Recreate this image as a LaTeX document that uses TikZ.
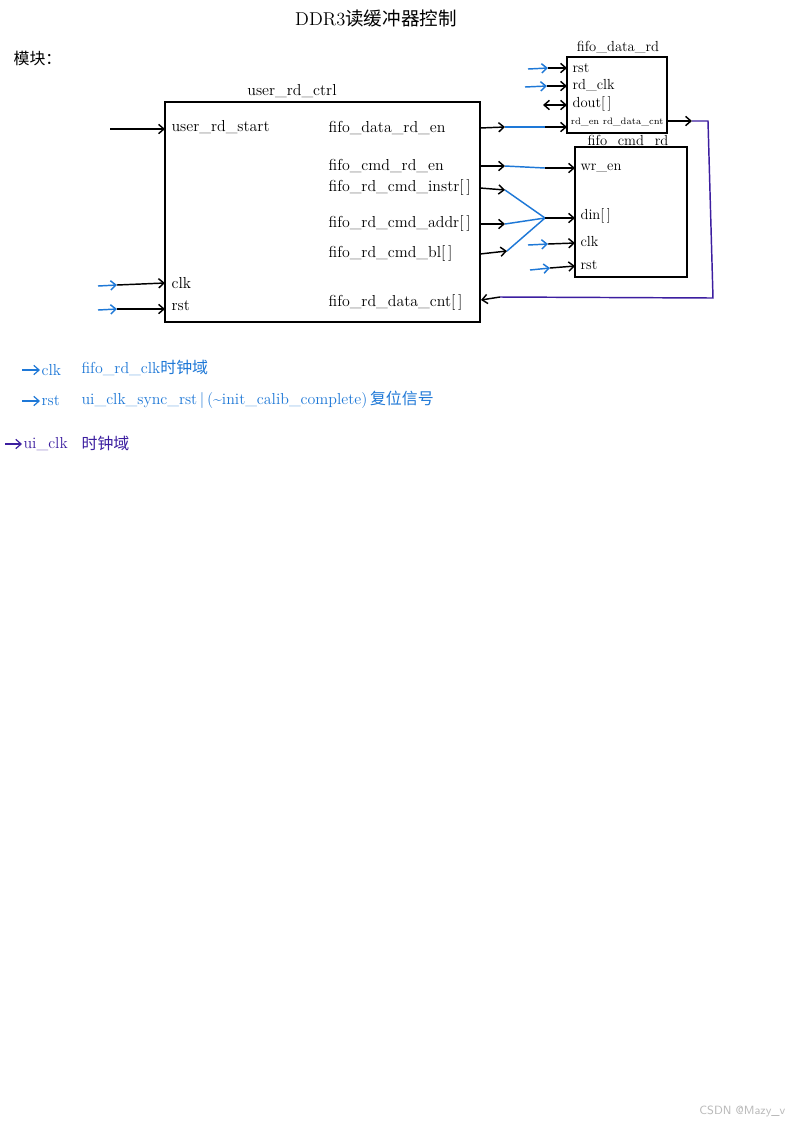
\documentclass[tikz,border=0pt]{standalone}
\usepackage{fontspec}
\newfontfamily\cjk{Noto Sans CJK SC}
\usetikzlibrary{fit,arrows.meta}
\definecolor{penblue}{RGB}{30,120,215}
\definecolor{penpurple}{RGB}{60,30,160}
\tikzset{
  blockbox/.style={draw, line width=1.1pt, inner sep=0pt},
  sig/.style={font=\fontsize{12}{14}\selectfont, inner sep=1pt},
  pinsig/.style={font=\fontsize{11}{13}\selectfont, inner sep=1pt},
  tinysig/.style={font=\fontsize{7}{8}\selectfont, inner sep=0.5pt},
  blu/.style={penblue, line width=1.1pt},
  prp/.style={penpurple, line width=1.1pt},
  blk/.style={black, line width=1.1pt}
}

\begin{document}
\begin{tikzpicture}[x=0.0265cm, y=-0.0265cm, >={Straight Barb[length=4pt,width=7pt]}]
% Parameters
\def\ctrlL{165}; \def\ctrlR{480};
\def\dataL{567}; \def\cmdL{575};
\def\lbl{327};

% Page
\useasboundingbox (0,0) rectangle (796,1125);
\fill[white] (0,0) rectangle (796,1125);

% Title
\node[font=\fontsize{14}{16}\selectfont] (ttl) at (376,18) {DDR3{\cjk 读缓冲器控制}};
\node[sig, anchor=west] (mk) at (12,58) {\cjk 模块：};

% Boxes
\coordinate (ctrlNW) at (\ctrlL,102); \coordinate (ctrlSE) at (\ctrlR,322);
\node[blockbox, fit=(ctrlNW)(ctrlSE)] (ctrl) {};
\node[sig, anchor=south] (ctrlname) at (292,99) {user\_rd\_ctrl};

\coordinate (dataNW) at (\dataL,57); \coordinate (dataSE) at (667,133);
\node[blockbox, fit=(dataNW)(dataSE)] (datafifo) {};
\node[pinsig, anchor=south] (dataname) at (618,55) {fifo\_data\_rd};

\coordinate (cmdNW) at (\cmdL,147); \coordinate (cmdSE) at (687,277);
\node[blockbox, fit=(cmdNW)(cmdSE)] (cmdfifo) {};
\node[pinsig, anchor=south] (cmdname) at (628,149) {fifo\_cmd\_rd};

% Ports of user_rd_ctrl
\node[sig, anchor=west] (pstart) at (\ctrlL+5,127) {user\_rd\_start};
\node[sig, anchor=west] (pclk) at (\ctrlL+5,283) {clk};
\node[sig, anchor=west] (prst) at (\ctrlL+5,306) {rst};
\node[sig, anchor=west] (pdataen) at (\lbl,128) {fifo\_data\_rd\_en};
\node[sig, anchor=west] (pcmden) at (\lbl,166) {fifo\_cmd\_rd\_en};
\node[sig, anchor=west] (pinstr) at (\lbl,188) {fifo\_rd\_cmd\_instr[\,]};
\node[sig, anchor=west] (paddr) at (\lbl,224) {fifo\_rd\_cmd\_addr[\,]};
\node[sig, anchor=west] (pbl) at (\lbl,254) {fifo\_rd\_cmd\_bl[\,]};
\node[sig, anchor=west] (pcnt) at (\lbl,303) {fifo\_rd\_data\_cnt[\,]};

% Ports of fifo_data_rd
\node[pinsig, anchor=west] (drst) at (\dataL+4,68) {rst};
\node[pinsig, anchor=west] (dclk) at (\dataL+4,85) {rd\_clk};
\node[pinsig, anchor=west] (ddout) at (\dataL+4,104) {dout[\,]};
\node[tinysig, anchor=west] (den) at (\dataL+3,122) {rd\_en rd\_data\_cnt};

% Ports of fifo_cmd_rd
\node[pinsig, anchor=west] (cwren) at (\cmdL+4,168) {wr\_en};
\node[pinsig, anchor=west] (cdin) at (\cmdL+4,216) {din[\,]};
\node[pinsig, anchor=west] (cclk) at (\cmdL+4,242) {clk};
\node[pinsig, anchor=west] (crst) at (\cmdL+4,265) {rst};

% Pin points
\coordinate (start0) at (110,129); \coordinate (start1) at (\ctrlL,129);
\coordinate (clk0) at (98,286); \coordinate (clk1) at (117,285); \coordinate (clk2) at (\ctrlL,283);
\coordinate (rst0) at (98,310); \coordinate (rst1) at (117,309); \coordinate (rst2) at (\ctrlL,309);
\coordinate (den0) at (\ctrlR,128); \coordinate (den1) at (505,127); \coordinate (den2) at (545,127); \coordinate (den3) at (\dataL,127);
\coordinate (cen0) at (\ctrlR,166); \coordinate (cen1) at (505,166); \coordinate (cen2) at (545,168); \coordinate (cen3) at (\cmdL,168);
\coordinate (ins0) at (\ctrlR,188); \coordinate (ins1) at (505,190);
\coordinate (adr0) at (\ctrlR,224); \coordinate (adr1) at (505,224);
\coordinate (bl0) at (\ctrlR,254); \coordinate (bl1) at (507,251);
\coordinate (merge) at (545,218); \coordinate (din1) at (\cmdL,218);
\coordinate (drst0) at (528,69); \coordinate (drst1) at (548,68); \coordinate (drst2) at (\dataL,68);
\coordinate (dclk0) at (525,87); \coordinate (dclk1) at (547,86); \coordinate (dclk2) at (\dataL,86);
\coordinate (dout0) at (543,105); \coordinate (dout1) at (\dataL,105);
\coordinate (cclk0) at (528,245); \coordinate (cclk1) at (548,244); \coordinate (cclk2) at (\cmdL,243);
\coordinate (crst0) at (530,270); \coordinate (crst1) at (550,268); \coordinate (crst2) at (\cmdL,266);
\coordinate (cnt0) at (667,121); \coordinate (cnt1) at (692,121);
\coordinate (cnt2) at (708,121); \coordinate (cnt3) at (713,298);
\coordinate (cnt4) at (500,297); \coordinate (cnt5) at (481,300);

% Connectors
\draw[blk,->] (start0) -- (start1);
\draw[blu,->] (clk0) -- (clk1); \draw[blk,->] (clk1) -- (clk2);
\draw[blu,->] (rst0) -- (rst1); \draw[blk,->] (rst1) -- (rst2);
\draw[blk,->] (den0) -- (den1); \draw[blu] (den1) -- (den2); \draw[blk,->] (den2) -- (den3);
\draw[blk,->] (cen0) -- (cen1); \draw[blu] (cen1) -- (cen2); \draw[blk,->] (cen2) -- (cen3);
\draw[blk,->] (ins0) -- (ins1); \draw[blu] (ins1) -- (merge);
\draw[blk,->] (adr0) -- (adr1); \draw[blu] (adr1) -- (merge);
\draw[blk,->] (bl0) -- (bl1); \draw[blu] (bl1) -- (merge);
\draw[blk,->] (merge) -- (din1);
\draw[blu,->] (drst0) -- (drst1); \draw[blk,->] (drst1) -- (drst2);
\draw[blu,->] (dclk0) -- (dclk1); \draw[blk,->] (dclk1) -- (dclk2);
\draw[blk,<->] (dout0) -- (dout1);
\draw[blu,->] (cclk0) -- (cclk1); \draw[blk,->] (cclk1) -- (cclk2);
\draw[blu,->] (crst0) -- (crst1); \draw[blk,->] (crst1) -- (crst2);
\draw[blk,->] (cnt0) -- (cnt1);
\draw[prp] (cnt1) -- (cnt2) -- (cnt3) -- (cnt4);
\draw[blk,->] (cnt4) -- (cnt5);

% Legend
\node[sig, penblue, anchor=west] (lclk) at (40,370) {clk};
\node[sig, penblue, anchor=west] (lclktxt) at (80,368) {fifo\_rd\_clk{\cjk 时钟域}};
\node[sig, penblue, anchor=west] (lrst) at (40,401) {rst};
\node[sig, penblue, anchor=west] (lrsttxt) at (80,400) {ui\_clk\_sync\_rst\,|\,(\textasciitilde init\_calib\_complete)\,{\cjk 复位信号}};
\node[sig, penpurple, anchor=west] (lui) at (22,444) {ui\_clk};
\node[sig, penpurple, anchor=west] (luitxt) at (80,443) {\cjk 时钟域};
\coordinate (lclk0) at (22,370); \coordinate (lrst0) at (22,401); \coordinate (lui0) at (5,444);
\draw[penblue, line width=0.9pt, ->] (lclk0) -- (lclk.west);
\draw[penblue, line width=0.9pt, ->] (lrst0) -- (lrst.west);
\draw[penpurple, line width=0.9pt, ->] (lui0) -- (lui.west);

% Watermark
\node[font=\sffamily\small, gray!55, anchor=east] (wm) at (790,1111) {CSDN @Mazy\_v};
\end{tikzpicture}
\end{document}
